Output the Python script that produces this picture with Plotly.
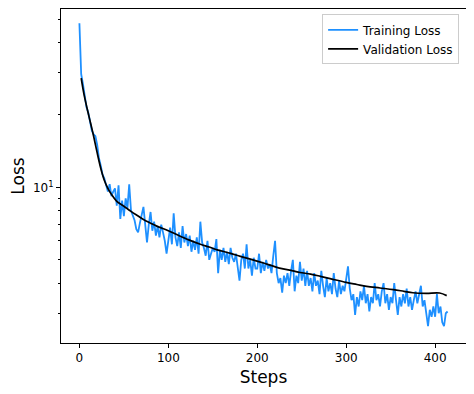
import plotly.graph_objects as go

# Training loss, sampled every 2 steps (0..414)
train_steps = list(range(0, 416, 2))
train_loss = [
    48.0, 29.5, 26.8, 24.0, 21.5, 20.4, 19.0, 17.2, 16.6, 16.3,
    15.0, 13.2, 12.3, 11.3, 10.9, 10.1, 9.6, 10.3, 9.2, 9.6,
    9.9, 8.4, 10.2, 7.4, 8.8, 7.6, 9.0, 8.2, 10.3, 8.0,
    7.6, 7.3, 6.7, 6.5, 7.1, 7.6, 8.3, 7.0, 5.9, 7.0,
    7.9, 6.6, 7.2, 6.3, 6.9, 6.2, 7.0, 6.5, 6.0, 5.3,
    6.1, 6.8, 5.8, 7.8, 6.2, 5.7, 6.5, 5.6, 6.9, 5.9,
    6.4, 5.7, 6.3, 5.4, 6.0, 5.5, 6.2, 5.3, 7.2, 5.9,
    5.6, 5.2, 6.0, 5.0, 5.3, 5.6, 5.4, 6.1, 4.4, 5.5,
    5.0, 5.6, 4.9, 5.4, 4.8, 5.6, 5.1, 4.9, 5.3, 4.7,
    4.1, 5.0, 5.3, 4.6, 5.8, 4.6, 5.0, 4.3, 5.1, 4.6,
    4.6, 5.3, 4.4, 4.9, 4.5, 5.0, 4.6, 4.8, 4.4, 5.2,
    6.0, 4.4, 4.0, 4.2, 3.65, 4.3, 4.0, 4.4, 3.9, 4.5,
    5.0, 3.7, 4.3, 4.0, 4.9, 4.1, 4.6, 3.9, 4.5, 3.9,
    4.2, 3.7, 4.4, 3.9, 4.1, 3.6, 4.5, 3.9, 3.5, 4.2,
    3.7, 4.0, 3.6, 4.4, 3.8, 3.5, 4.1, 3.6, 3.9, 3.7,
    4.1, 4.7, 3.8, 3.4, 3.6, 2.95, 3.5, 3.2, 3.7, 3.4,
    3.9, 3.3, 3.6, 3.05, 3.5, 3.3, 4.0, 3.4, 3.6, 3.2,
    3.7, 4.0, 3.3, 3.6, 3.1, 3.5, 3.3, 4.0, 3.4, 2.95,
    3.5, 3.2, 3.6, 3.3, 3.8, 3.2, 3.5, 3.1, 3.4, 3.7,
    3.3, 3.6, 3.9, 3.2, 3.4, 3.0, 2.65, 3.1, 2.9, 3.2,
    2.9, 3.6, 3.0, 3.2, 2.75, 2.65, 3.0, 3.05,
]

# Validation loss
val_steps = [2, 5, 9, 13, 16, 20, 24, 28, 32, 36, 42, 50, 58, 66, 72, 80, 87,
             100, 110, 123, 136, 146, 155, 170, 181, 195, 207, 225, 240, 248,
             260, 271, 285, 300, 312, 323, 338, 353, 365, 375, 390, 405, 413]
val_loss = [28.4, 24.5, 21.0, 18.2, 16.3, 13.9, 12.0, 10.7, 9.9, 9.35, 8.75,
            8.35, 7.95, 7.6, 7.35, 7.1, 6.9, 6.6, 6.35, 6.05, 5.8, 5.65, 5.5,
            5.32, 5.17, 5.0, 4.85, 4.62, 4.5, 4.43, 4.36, 4.27, 4.15, 4.03,
            3.95, 3.88, 3.82, 3.76, 3.70, 3.65, 3.63, 3.64, 3.55]

x_ticks = [0, 100, 200, 300, 400]
y_major = [10]
y_minor = [3, 4, 5, 6, 7, 8, 9, 20, 30, 40, 50]

FONT = "DejaVu Sans"

fig = go.Figure()
fig.add_trace(go.Scatter(x=train_steps, y=train_loss, mode="lines",
                         name="Training Loss",
                         line=dict(color="#1E90FF", width=1.8)))
fig.add_trace(go.Scatter(x=val_steps, y=val_loss, mode="lines",
                         name="Validation Loss",
                         line=dict(color="black", width=1.7, shape="spline")))

# page body has an 8px margin, so the figure is sized/positioned to compensate
fig.update_layout(
    width=466, height=386,
    margin=dict(l=53, r=8, t=1, b=51, autoexpand=False),
    paper_bgcolor="white", plot_bgcolor="white",
    font=dict(family=FONT, size=12, color="black"),
    showlegend=True,
    legend=dict(x=0.983, y=0.984, xanchor="right", yanchor="top",
                bgcolor="rgba(255,255,255,0.8)", bordercolor="#cccccc",
                borderwidth=1, font=dict(size=12, family=FONT),
                itemwidth=30, tracegroupgap=0),
)
fig.update_xaxes(
    range=[-20.7, 434.7], tickvals=x_ticks, automargin=False,
    showgrid=False, zeroline=False,
    showline=True, linecolor="black", linewidth=1, mirror=True,
    ticks="outside", ticklen=4, tickcolor="black",
    title=dict(text="Steps", font=dict(size=17, family=FONT), standoff=6),
)
fig.update_yaxes(
    type="log", range=[0.3535, 1.7407], automargin=False,
    tickvals=y_major, ticktext=["10<sup>1</sup>"],
    showgrid=False, zeroline=False,
    showline=True, linecolor="black", linewidth=1, mirror=True,
    ticks="outside", ticklen=4, tickcolor="black",
    minor=dict(tickvals=y_minor, ticks="outside", ticklen=2,
               tickcolor="black", showgrid=False),
    title=dict(text="Loss", font=dict(size=17, family=FONT), standoff=6),
)

fig.write_html("out.html")
